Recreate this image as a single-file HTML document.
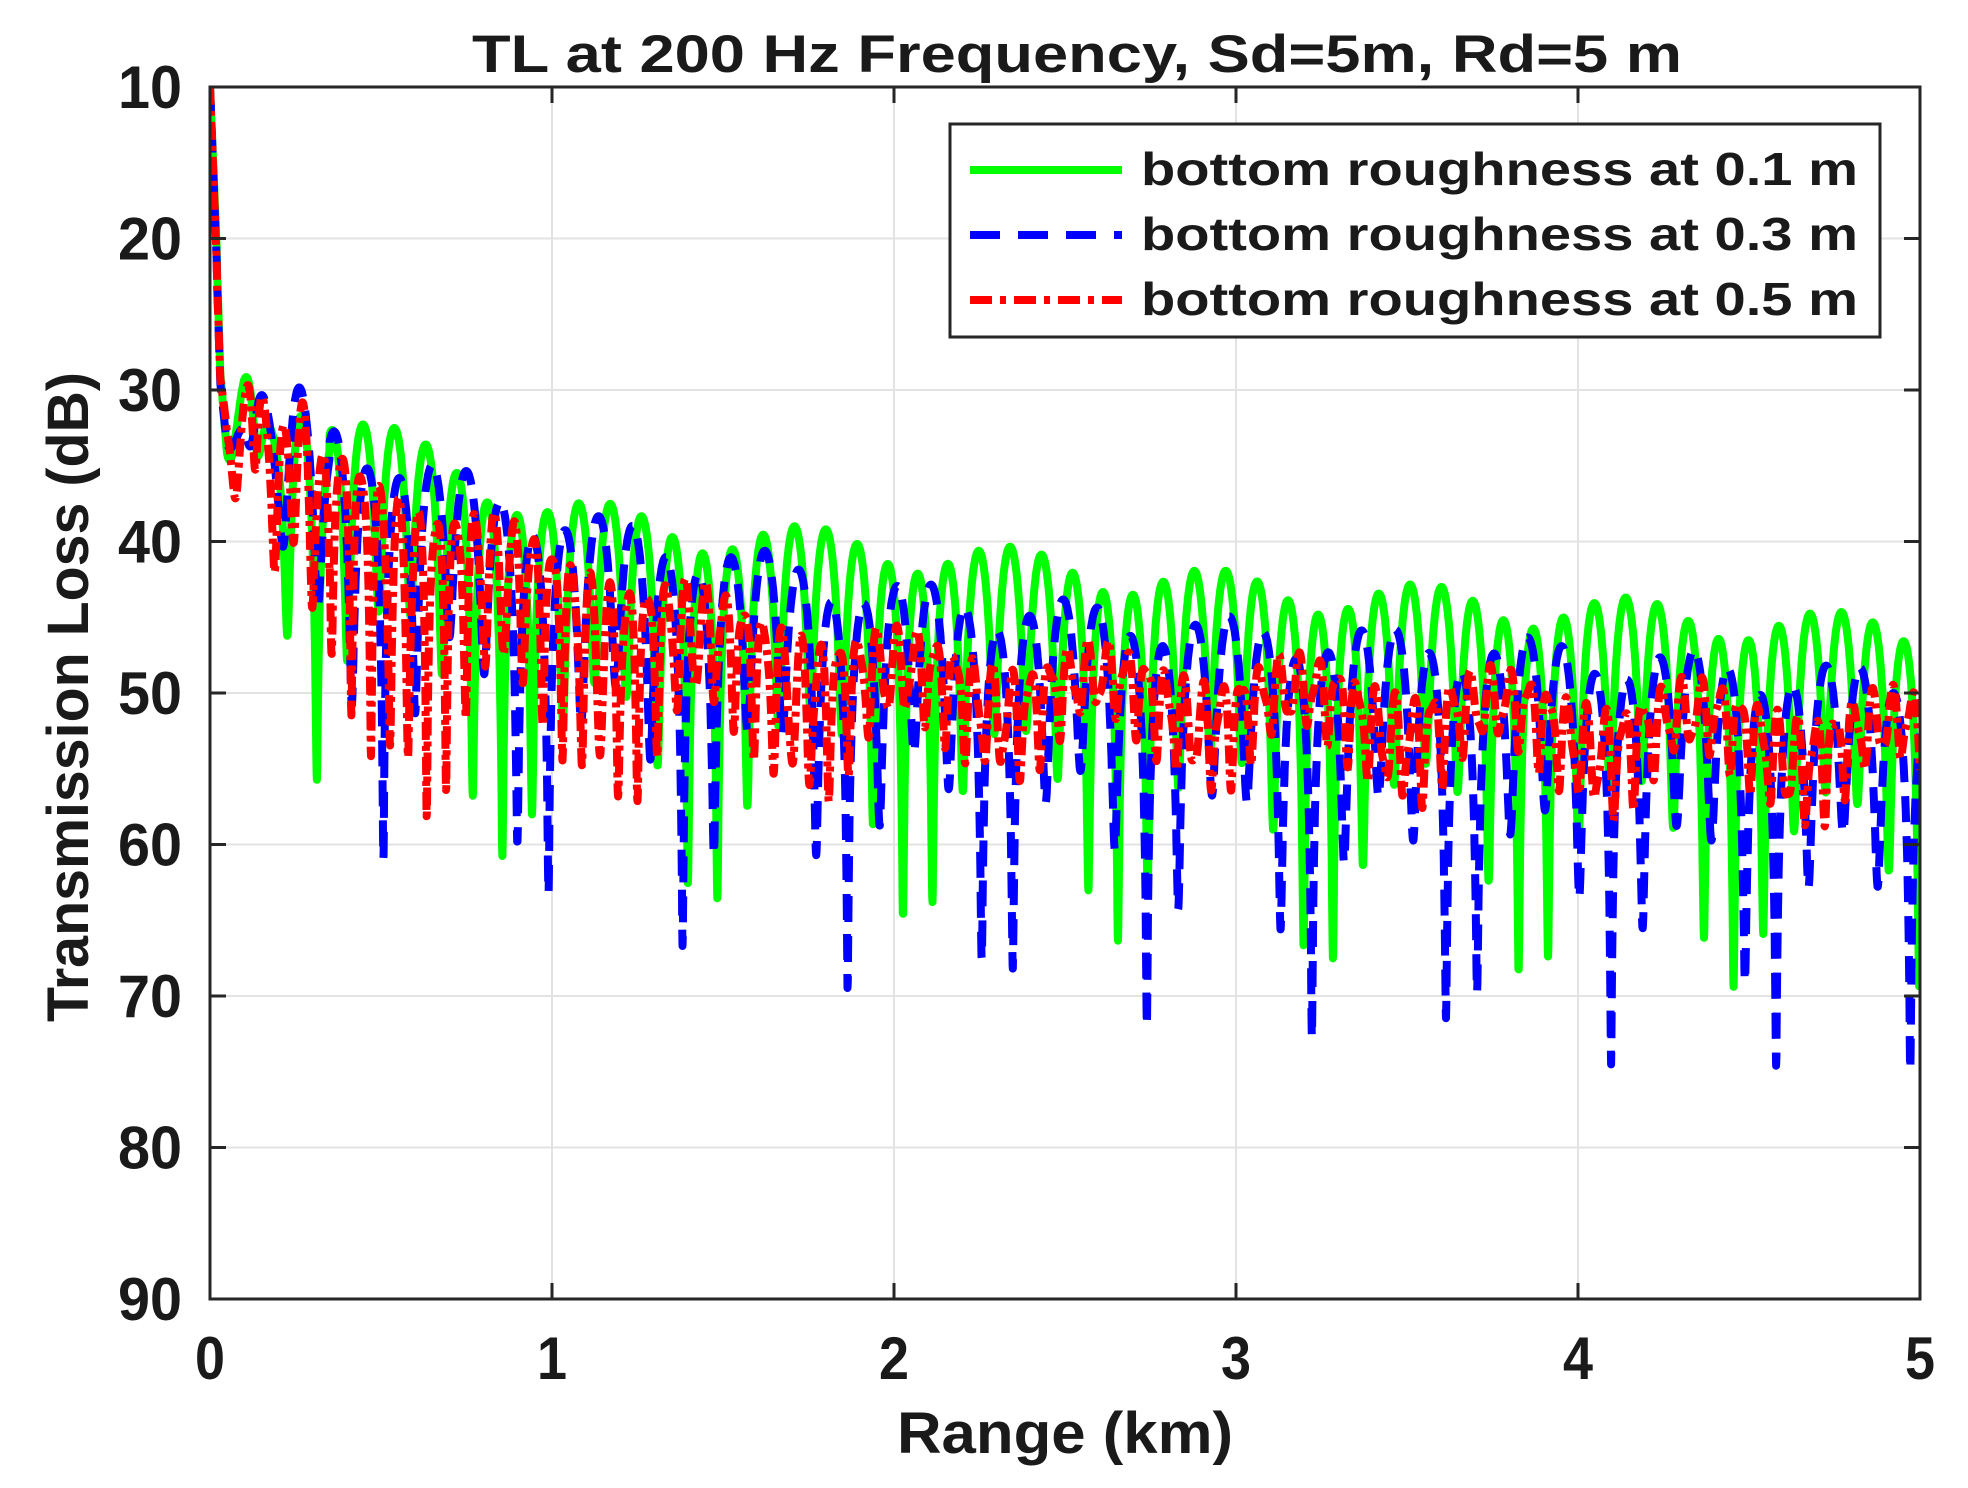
<!DOCTYPE html>
<html><head><meta charset="utf-8"><style>
html,body{margin:0;padding:0;background:#fff;}
svg{display:block;}
text{font-family:"Liberation Sans",sans-serif;font-weight:bold;fill:#1a1a1a;}
</style></head><body>
<svg id="s" width="1968" height="1488" viewBox="0 0 1968 1488" xmlns="http://www.w3.org/2000/svg">
<rect width="1968" height="1488" fill="#fff"/>
<defs><clipPath id="cp"><rect x="210" y="87" width="1710" height="1212"/></clipPath></defs>
<g id="grid" stroke="#e3e3e3" stroke-width="2"></g>
<g id="data" clip-path="url(#cp)" fill="none" stroke-linejoin="round"></g>
<g id="axes" stroke="#262626" stroke-width="3" fill="none"></g>
<text x="1077" y="72" font-size="53" text-anchor="middle" textLength="1210" lengthAdjust="spacingAndGlyphs">TL at 200 Hz Frequency, Sd=5m, Rd=5 m</text>
<g id="ticks" font-size="60"></g>
<text x="1065" y="1453" font-size="58" text-anchor="middle" textLength="336" lengthAdjust="spacingAndGlyphs">Range (km)</text>
<text transform="translate(88,697) rotate(-90)" font-size="58" text-anchor="middle" textLength="650" lengthAdjust="spacingAndGlyphs">Transmission Loss (dB)</text>
<rect x="950" y="124" width="930" height="213" fill="#fff" stroke="#262626" stroke-width="3"/>
<line x1="970" y1="170" x2="1122" y2="170" stroke="#00ff00" stroke-width="8"/>
<line x1="970" y1="235" x2="1122" y2="235" stroke="#0000ff" stroke-width="8" stroke-dasharray="30,18"/>
<line x1="970" y1="300" x2="1122" y2="300" stroke="#ff0000" stroke-width="8" stroke-dasharray="22,8,6,8"/>
<text x="1141" y="185" font-size="46" textLength="717" lengthAdjust="spacingAndGlyphs">bottom roughness at 0.1 m</text>
<text x="1141" y="250" font-size="46" textLength="717" lengthAdjust="spacingAndGlyphs">bottom roughness at 0.3 m</text>
<text x="1141" y="315" font-size="46" textLength="717" lengthAdjust="spacingAndGlyphs">bottom roughness at 0.5 m</text>
</svg>
<script>
(function(){
var NS="http://www.w3.org/2000/svg";
function X(r){return 210+r*342;}
function Y(v){return 87+(v-10)*15.15;}
function el(p,t,a){var e=document.createElementNS(NS,t);for(var k in a)e.setAttribute(k,a[k]);p.appendChild(e);return e;}
var g=document.getElementById('grid'),ax=document.getElementById('axes'),tk=document.getElementById('ticks');
for(var i=1;i<5;i++)el(g,'line',{x1:X(i),y1:87,x2:X(i),y2:1299});
for(var v=20;v<90;v+=10)el(g,'line',{x1:210,y1:Y(v),x2:1920,y2:Y(v)});
el(ax,'rect',{x:210,y:87,width:1710,height:1212});
for(i=0;i<=5;i++){el(ax,'line',{x1:X(i),y1:1299,x2:X(i),y2:1283});el(ax,'line',{x1:X(i),y1:87,x2:X(i),y2:103});
 var t=el(tk,'text',{x:X(i),y:1379,'text-anchor':'middle',textLength:30,lengthAdjust:'spacingAndGlyphs'});t.textContent=i;}
for(v=10;v<=90;v+=10){el(ax,'line',{x1:210,y1:Y(v),x2:226,y2:Y(v)});el(ax,'line',{x1:1920,y1:Y(v),x2:1904,y2:Y(v)});
 var t2=el(tk,'text',{x:182,y:Y(v)+21,'text-anchor':'end',textLength:64,lengthAdjust:'spacingAndGlyphs'});t2.textContent=v;}
function interp(pts,r){if(r<=pts[0][0])return pts[0][1];for(var j=1;j<pts.length;j++){if(r<=pts[j][0]){var a=pts[j-1],b=pts[j];return a[1]+(b[1]-a[1])*(r-a[0])/(b[0]-a[0]);}}return pts[pts.length-1][1];}
function series(env,P1,P2,aF,b,ph1,ph2,eps,P3,c){
 var d="",N=6000;
 for(var k=0;k<=N;k++){var r=5*k/N;
  var w=Math.min(1,r/0.3);
  var a=aF(r)*w,bb=b*w,cc=(c||0)*w;
  var t1=2*Math.PI*r/P1+ph1,t2=2*Math.PI*r/P2+ph2,t3=P3?2*Math.PI*r/P3+1.3:0;
  var re=1+a*Math.cos(t1)+bb*Math.cos(t2)+cc*Math.cos(t3),im=a*Math.sin(t1)+bb*Math.sin(t2)+cc*Math.sin(t3);
  var m2=re*re+im*im+eps;var mx=(1+a+bb+cc);
  var near=0;
  if(r<0.35&&r>0.02){near=4*(1-Math.cos(2*Math.PI*r/0.13))*Math.min(1,r/0.05);}
  var val=interp(env,r)+10*Math.log10(mx*mx/m2)+near*(1-w*0.8);
  if(val>95)val=95;
  d+=(k?"L":"M")+X(r).toFixed(1)+" "+Y(val).toFixed(1);}
 return d;}
var dat=document.getElementById('data');
var envG=[[0,10],[0.03,26],[0.1,26],[0.25,29],[0.35,31],[0.6,33],[1,37],[1.5,38.5],[2,39.5],[3,42],[4,43.5],[5,45]];
var envB=[[0,10],[0.03,26],[0.1,26.5],[0.25,29.5],[0.35,32],[0.6,34],[1,37.5],[1.5,40],[2,42.5],[3,45],[4,46.5],[5,48.5]];
var envR=[[0,10],[0.03,26],[0.1,27],[0.25,30],[0.35,33],[0.6,36],[1,39.5],[1.5,43],[2,45.5],[3,47],[4,48.5],[5,49.5]];
el(dat,'path',{d:series(envG,0.09,0.6,function(r){return 0.75;},0.25,0,0.5,0.012),stroke:'#00ff00','stroke-width':8});
el(dat,'path',{d:series(envB,0.097,0.45,function(r){return 0.72;},0.26,1.7,2.4,0.006),stroke:'#0000ff','stroke-width':8,'stroke-dasharray':'26,14'});
el(dat,'path',{d:series(envR,0.056,0.58,function(r){return Math.max(0.28,0.8-0.22*r);},0.18,0.9,3.1,0.002,0.031,0.1),stroke:'#ff0000','stroke-width':8,'stroke-dasharray':'18,6,5,6'});
})();
</script>
</body></html>
